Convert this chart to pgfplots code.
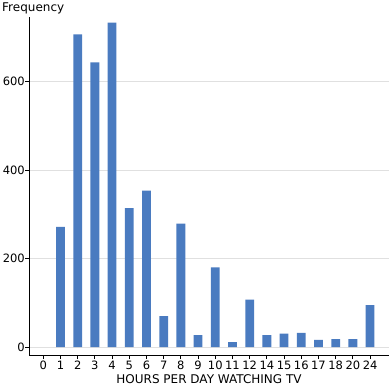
\documentclass[border=0pt]{standalone}
\usepackage{pgfplots}
\pgfplotsset{compat=1.18}
\usepackage{fontspec}
\setmainfont{DejaVu Sans}
\definecolor{barblue}{HTML}{4A7BC0}
\definecolor{gridgray}{HTML}{E0E0E0}
\begin{document}
\begin{tikzpicture}
\begin{axis}[
  scale only axis,
  width=360pt, height=338pt,
  xmin=-0.83, xmax=20.1,
  ymin=-18.1, ymax=746.6,
  axis lines=left,
  axis line style={-, black, line width=0.8pt},
  ybar, bar width=8.8pt,
  xtick={0,...,19},
  xticklabels={0,1,2,3,4,5,6,7,8,9,10,11,12,14,15,16,17,18,20,24},
  ytick={0,200,400,600},
  /pgf/number format/assume math mode=true,
  ymajorgrids,
  grid style={gridgray, line width=0.8pt},
  tick align=outside,
  major tick length=4pt,
  tick style={black, line width=0.8pt},
  xticklabel style={font=\fontsize{11.5}{12}\selectfont, inner sep=0pt, anchor=base, yshift=-10pt},
  yticklabel style={font=\fontsize{11.5}{12}\selectfont, inner sep=0pt, anchor=east, xshift=0pt},
  xlabel={HOURS PER DAY WATCHING TV},
  xlabel style={font=\fontsize{12}{13}\selectfont, inner sep=0pt, at={(axis description cs:0.5,0)}, anchor=base, yshift=-28.3pt},
  clip=false,
]
\addplot[fill=barblue, draw=none] coordinates {
  (1,272) (2,707) (3,644) (4,734) (5,314) (6,354) (7,70) (8,279)
  (9,27) (10,180) (11,11) (12,107) (13,27) (14,30) (15,32) (16,16)
  (17,18) (18,18) (19,95)
};
\node[anchor=base west, inner sep=0pt, font=\fontsize{12}{13}\selectfont, xshift=-27pt, yshift=5.3pt] at (rel axis cs:0,1) {Frequency};
\coordinate (sw) at (rel axis cs:0,0);
\coordinate (ne) at (rel axis cs:1,1);
\end{axis}
\pgfresetboundingbox
\path ([shift={(-29pt,-35pt)}]sw) rectangle ([shift={(1pt,17pt)}]ne);
\end{tikzpicture}
\end{document}
